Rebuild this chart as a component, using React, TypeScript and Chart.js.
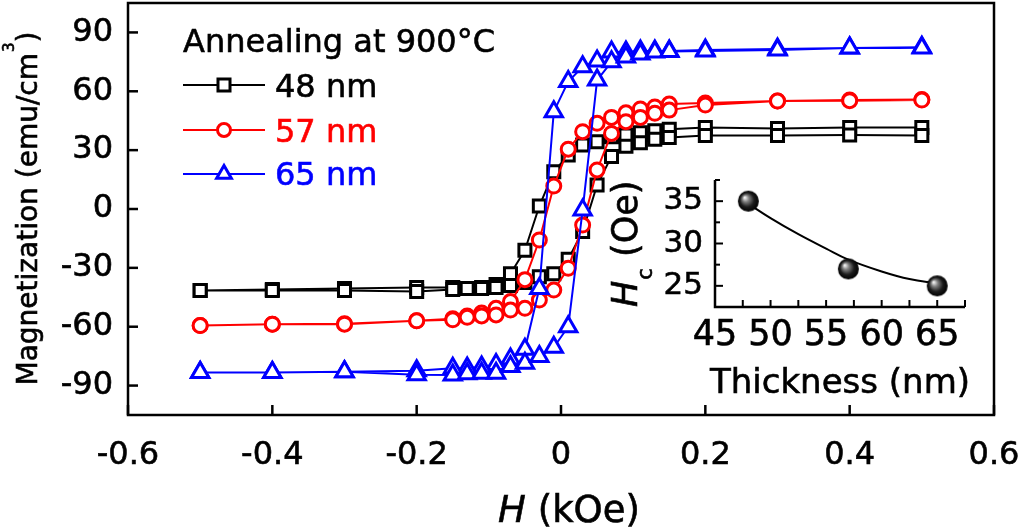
import React, { useEffect, useRef } from 'react';
import { Chart, registerables } from 'chart.js';

Chart.register(...registerables);

const FONT = '"DejaVu Sans", "Liberation Sans", sans-serif';
const TEXT_STROKE = 0.6;

// ---- Main hysteresis data: field H (kOe) ----
const H_DESC = [0.5, 0.4, 0.3, 0.2, 0.15, 0.13, 0.11, 0.09, 0.07, 0.05, 0.03, 0.01, -0.01, -0.03, -0.05, -0.07, -0.09, -0.11, -0.13, -0.15, -0.2, -0.3, -0.4, -0.5];
const H_ASC = [-0.5, -0.4, -0.3, -0.2, -0.15, -0.13, -0.11, -0.09, -0.07, -0.05, -0.03, -0.01, 0.01, 0.03, 0.05, 0.07, 0.09, 0.11, 0.13, 0.15, 0.2, 0.3, 0.4, 0.5];

// Magnetization (emu/cm3)
const M48_DESC = [41.5, 41.5, 41, 41.5, 40.6, 39.9, 38.9, 37.7, 36.8, 34.3, 32.6, 27.5, 19, 1.5, -21, -33, -38.5, -40, -40.5, -40, -40, -40.5, -41, -41.5];
const M48_ASC = [-41.5, -41.5, -41.5, -42, -41, -40.5, -40.5, -40, -39, -37.5, -34.5, -33, -25.6, -11.5, 12.2, 26.8, 32, 33.8, 35.5, 36.5, 37.5, 37.5, 37.7, 37.5];
const M57_DESC = [55.8, 55.5, 55, 54, 53.5, 52, 51, 49, 46.7, 43.7, 39.4, 30.5, 11.7, -15.8, -36, -47.2, -50.6, -53, -54.5, -56, -57, -58.5, -58.7, -59.4];
const M57_ASC = [-59.4, -58.7, -58.7, -57, -56.5, -55.2, -54.5, -54, -51.5, -50.6, -46.4, -41.3, -30.2, -8.2, 19.9, 38.5, 44.5, 46.7, 48.8, 50.4, 53, 55, 55.2, 55.5];
const M65_DESC = [82.5, 82, 81.5, 81, 80.5, 80.5, 80.5, 80, 80, 75.5, 72.5, 65, 49.6, -40.5, -71.5, -76.5, -79.3, -80.5, -81, -81.2, -82.5, -83, -83.4, -83.4];
const M65_ASC = [-83.4, -83.4, -83, -84.5, -84.6, -84, -83.7, -83.7, -80.3, -78.6, -75.2, -70.5, -60, -0.5, 65.7, 75, 77.5, 79, 80, 80.3, 80.5, 81, 82, 82];

const SERIES_NAMES = ['48 nm', '57 nm', '65 nm'];
const SERIES_COLORS = ['#000000', '#ff0000', '#0000ff'];
const SERIES_STYLES = ['rect', 'circle', 'triangle'];
const LEGEND_TITLE = 'Annealing at 900\u00B0C';

const X_TICKS = [-0.6, -0.4, -0.2, 0, 0.2, 0.4, 0.6];
const X_TICK_LABELS = ['-0.6', '-0.4', '-0.2', '0', '0.2', '0.4', '0.6'];
const Y_TICKS = [-90, -60, -30, 0, 30, 60, 90];
const Y_TICK_LABELS = ['-90', '-60', '-30', '0', '30', '60', '90'];
const X_TITLE_ITALIC = 'H';
const X_TITLE_REST = ' (kOe)';
const Y_TITLE_MAIN = 'Magnetization (emu/cm';
const Y_TITLE_SUP = '3';
const Y_TITLE_END = ')';

// ---- Inset data ----
const THICKNESS = [48, 57, 65];
const HC = [35, 27, 25];
const FIT_T = [48, 50, 52.5, 55, 57, 60, 62.5, 65];
const FIT_HC = [34.7, 33.0, 31.1, 29.4, 28.1, 26.7, 25.8, 25.3];
const INSET_X_TICKS = [45, 50, 55, 60, 65];
const INSET_X_MINOR = [47.5, 52.5, 57.5, 62.5, 67.5];
const INSET_Y_TICKS = [25, 30, 35];
const INSET_Y_MINOR = [27.5, 32.5, 37.5];
const INSET_X_TITLE = 'Thickness (nm)';
const INSET_Y_TITLE_ITALIC = 'H';
const INSET_Y_TITLE_SUB = 'c';
const INSET_Y_TITLE_REST = ' (Oe)';

function loop(desc: number[], asc: number[]) {
  return H_DESC.map((h, i) => ({ x: h, y: desc[i] })).concat(H_ASC.map((h, i) => ({ x: h, y: asc[i] })));
}

function zeroPad(s: any) {
  s.paddingLeft = 0;
  s.paddingRight = 0;
  s.paddingTop = 0;
  s.paddingBottom = 0;
}

function text(ctx: CanvasRenderingContext2D, s: string, x: number, y: number, color: string) {
  ctx.fillStyle = color;
  ctx.strokeStyle = color;
  ctx.lineWidth = TEXT_STROKE;
  ctx.fillText(s, x, y);
  ctx.strokeText(s, x, y);
}

function drawMarker(ctx: CanvasRenderingContext2D, style: string, x: number, y: number, r: number, color: string) {
  ctx.save();
  ctx.lineWidth = 3;
  ctx.strokeStyle = color;
  ctx.fillStyle = '#fff';
  ctx.beginPath();
  if (style === 'rect') {
    const s = r * Math.SQRT1_2;
    ctx.rect(x - s, y - s, 2 * s, 2 * s);
  } else if (style === 'circle') {
    ctx.arc(x, y, r, 0, Math.PI * 2);
  } else {
    ctx.moveTo(x, y - r);
    ctx.lineTo(x + r * 0.866, y + r * 0.5);
    ctx.lineTo(x - r * 0.866, y + r * 0.5);
    ctx.closePath();
  }
  ctx.fill();
  ctx.stroke();
  ctx.restore();
}

const mainFrame = {
  id: 'mainFrame',
  beforeDatasetsDraw(chart: any) {
    const { ctx, chartArea: a, scales } = chart;
    ctx.save();
    ctx.strokeStyle = '#000';
    ctx.lineWidth = 2.5;
    ctx.strokeRect(a.left, a.top, a.right - a.left, a.bottom - a.top);
    for (const t of scales.y.ticks) {
      const y = scales.y.getPixelForValue(t.value);
      ctx.beginPath();
      ctx.moveTo(a.left, y);
      ctx.lineTo(a.left + 10, y);
      ctx.stroke();
    }
    for (const t of scales.x.ticks) {
      const x = scales.x.getPixelForValue(t.value);
      ctx.beginPath();
      ctx.moveTo(x, a.bottom);
      ctx.lineTo(x, a.bottom - 10);
      ctx.stroke();
    }
    ctx.restore();
  },
  afterDraw(chart: any) {
    const { ctx, chartArea: a } = chart;
    ctx.save();
    ctx.textBaseline = 'alphabetic';
    ctx.textAlign = 'left';
    // x title
    const fi = `italic 37px ${FONT}`;
    const fn = `37px ${FONT}`;
    ctx.font = fi;
    const wH = ctx.measureText(X_TITLE_ITALIC).width;
    ctx.font = fn;
    const wR = ctx.measureText(X_TITLE_REST).width;
    const x0 = 569 - (wH + wR) / 2;
    ctx.font = fi;
    text(ctx, X_TITLE_ITALIC, x0, 522, '#000');
    ctx.font = fn;
    text(ctx, X_TITLE_REST, x0 + wH, 522, '#000');
    // y title
    ctx.translate(37, (a.top + a.bottom) / 2);
    ctx.rotate(-Math.PI / 2);
    const f1 = `28px ${FONT}`;
    const f2 = `15px ${FONT}`;
    ctx.font = f1;
    const w1 = ctx.measureText(Y_TITLE_MAIN).width;
    const w3 = ctx.measureText(Y_TITLE_END).width;
    ctx.font = f2;
    const w2 = ctx.measureText(Y_TITLE_SUP).width;
    let p = -(w1 + w2 + w3) / 2;
    ctx.font = f1;
    text(ctx, Y_TITLE_MAIN, p, 0, '#000');
    p += w1;
    ctx.font = f2;
    text(ctx, Y_TITLE_SUP, p + 1, -23, '#000');
    p += w2 + 1;
    ctx.font = f1;
    text(ctx, Y_TITLE_END, p, 0, '#000');
    ctx.restore();

    // legend
    ctx.save();
    ctx.textBaseline = 'alphabetic';
    ctx.textAlign = 'left';
    ctx.font = `32px ${FONT}`;
    text(ctx, LEGEND_TITLE, 183, 52, '#000');
    const rowY = [85, 130, 174];
    const textBase = [97, 142, 185];
    const radii = [8.5, 6.5, 8.5];
    for (let i = 0; i < 3; i++) {
      ctx.strokeStyle = SERIES_COLORS[i];
      ctx.lineWidth = 2;
      ctx.beginPath();
      ctx.moveTo(183, rowY[i]);
      ctx.lineTo(265, rowY[i]);
      ctx.stroke();
      drawMarker(ctx, SERIES_STYLES[i], 224, rowY[i], radii[i], SERIES_COLORS[i]);
      ctx.font = `32px ${FONT}`;
      text(ctx, SERIES_NAMES[i], 275, textBase[i], SERIES_COLORS[i]);
    }
    ctx.restore();
  },
};

const insetFrame = {
  id: 'insetFrame',
  beforeDatasetsDraw(chart: any) {
    const { ctx, chartArea: a, scales } = chart;
    ctx.save();
    ctx.strokeStyle = '#000';
    ctx.lineWidth = 2.5;
    ctx.beginPath();
    ctx.moveTo(a.left, a.top);
    ctx.lineTo(a.left, a.bottom);
    ctx.lineTo(a.right, a.bottom);
    ctx.stroke();
    ctx.lineWidth = 2;
    for (const v of INSET_Y_TICKS) {
      const y = scales.y.getPixelForValue(v);
      ctx.beginPath(); ctx.moveTo(a.left, y); ctx.lineTo(a.left + 8, y); ctx.stroke();
    }
    for (const v of INSET_Y_MINOR) {
      const y = scales.y.getPixelForValue(v);
      ctx.beginPath(); ctx.moveTo(a.left, y); ctx.lineTo(a.left + 5, y); ctx.stroke();
    }
    for (const v of INSET_X_TICKS) {
      const x = scales.x.getPixelForValue(v);
      ctx.beginPath(); ctx.moveTo(x, a.bottom); ctx.lineTo(x, a.bottom - 7); ctx.stroke();
    }
    for (const v of INSET_X_MINOR) {
      const x = scales.x.getPixelForValue(v);
      ctx.beginPath(); ctx.moveTo(x, a.bottom); ctx.lineTo(x, a.bottom - 7); ctx.stroke();
    }
    ctx.restore();
  },
  afterDraw(chart: any) {
    const { ctx, chartArea: a } = chart;
    ctx.save();
    ctx.textBaseline = 'alphabetic';
    ctx.textAlign = 'center';
    ctx.font = `34px ${FONT}`;
    text(ctx, INSET_X_TITLE, (a.left + a.right) / 2, 233, '#000');
    ctx.textAlign = 'left';
    ctx.translate(37, a.bottom);
    ctx.rotate(-Math.PI / 2);
    ctx.font = `italic 35px ${FONT}`;
    const wH = ctx.measureText(INSET_Y_TITLE_ITALIC).width;
    text(ctx, INSET_Y_TITLE_ITALIC, 0, 0, '#000');
    ctx.font = `21px ${FONT}`;
    const wc = ctx.measureText(INSET_Y_TITLE_SUB).width;
    text(ctx, INSET_Y_TITLE_SUB, wH + 1, 15, '#000');
    ctx.font = `35px ${FONT}`;
    text(ctx, INSET_Y_TITLE_REST, wH + wc + 1, 0, '#000');
    ctx.restore();
  },
};

function makeSphere(r: number) {
  const c = document.createElement('canvas');
  const s = Math.ceil(r * 2 + 2);
  c.width = s;
  c.height = s;
  const g = c.getContext('2d')!;
  const cx = s / 2, cy = s / 2;
  const grad = g.createRadialGradient(cx - r * 0.35, cy - r * 0.35, r * 0.05, cx, cy, r);
  grad.addColorStop(0, '#f2f2f2');
  grad.addColorStop(0.28, '#808080');
  grad.addColorStop(0.65, '#1c1c1c');
  grad.addColorStop(1, '#000');
  g.fillStyle = grad;
  g.beginPath();
  g.arc(cx, cy, r, 0, Math.PI * 2);
  g.fill();
  return c;
}

const tickFont = (size: number) => ({
  font: { family: FONT, size },
  color: '#000',
  textStrokeColor: '#000',
  textStrokeWidth: TEXT_STROKE,
});

export default function App() {
  const mainRef = useRef<HTMLCanvasElement>(null);
  const insetRef = useRef<HTMLCanvasElement>(null);

  useEffect(() => {
    document.body.style.margin = '0';
    const series = [
      { d: M48_DESC, a: M48_ASC, r: 8.5, order: 3 },
      { d: M57_DESC, a: M57_ASC, r: 7, order: 2 },
      { d: M65_DESC, a: M65_ASC, r: 10, order: 1 },
    ];
    const main = new Chart(mainRef.current!, {
      type: 'scatter',
      data: {
        datasets: series.map((s, i) => ({
          label: SERIES_NAMES[i],
          data: loop(s.d, s.a),
          showLine: true,
          borderColor: SERIES_COLORS[i],
          borderWidth: 2,
          pointStyle: SERIES_STYLES[i] as any,
          pointRadius: s.r,
          pointBorderWidth: 3,
          pointBorderColor: SERIES_COLORS[i],
          pointBackgroundColor: '#ffffff',
          tension: 0,
          order: s.order,
        })),
      },
      options: {
        animation: false,
        responsive: false,
        maintainAspectRatio: false,
        layout: { autoPadding: false, padding: { top: 3, right: 26, left: 0, bottom: 0 } },
        plugins: { legend: { display: false }, tooltip: { enabled: false } },
        scales: {
          x: {
            type: 'linear',
            min: -0.6,
            max: 0.6,
            grid: { display: false, drawTicks: false },
            border: { display: false },
            afterBuildTicks: (s: any) => { s.ticks = X_TICKS.map((v) => ({ value: v })); },
            afterFit: (s: any) => { s.height = 116; zeroPad(s); },
            ticks: {
              callback: (_v: any, i: number) => X_TICK_LABELS[i],
              ...tickFont(32),
              padding: 21,
              maxRotation: 0,
              minRotation: 0,
              autoSkip: false,
            },
          },
          y: {
            type: 'linear',
            min: -105,
            max: 105,
            grid: { display: false, drawTicks: false },
            border: { display: false },
            afterBuildTicks: (s: any) => { s.ticks = Y_TICKS.map((v) => ({ value: v })); },
            afterFit: (s: any) => { s.width = 128; zeroPad(s); },
            ticks: {
              callback: (_v: any, i: number) => Y_TICK_LABELS[i],
              ...tickFont(32),
              padding: 15,
              autoSkip: false,
            },
          },
        },
      },
      plugins: [mainFrame],
    } as any);

    const sphere = makeSphere(10.5);
    const inset = new Chart(insetRef.current!, {
      type: 'scatter',
      data: {
        datasets: [
          {
            label: 'Hc',
            data: THICKNESS.map((t, i) => ({ x: t, y: HC[i] })),
            pointStyle: sphere as any,
            pointRadius: 10,
            showLine: false,
            order: 0,
          },
          {
            label: 'fit',
            data: FIT_T.map((t, i) => ({ x: t, y: FIT_HC[i] })),
            showLine: true,
            borderColor: '#000',
            borderWidth: 2,
            pointRadius: 0,
            tension: 0.4,
            order: 1,
          },
        ],
      },
      options: {
        animation: false,
        responsive: false,
        maintainAspectRatio: false,
        layout: { autoPadding: false, padding: { top: 20, right: 55, left: 0, bottom: 0 } },
        plugins: { legend: { display: false }, tooltip: { enabled: false } },
        scales: {
          x: {
            type: 'linear',
            min: 45,
            max: 67.5,
            grid: { display: false, drawTicks: false },
            border: { display: false },
            afterBuildTicks: (s: any) => { s.ticks = INSET_X_TICKS.map((v) => ({ value: v })); },
            afterFit: (s: any) => { s.height = 103; zeroPad(s); },
            ticks: {
              callback: (_v: any, i: number) => String(INSET_X_TICKS[i]),
              ...tickFont(35),
              padding: 8,
              maxRotation: 0,
              minRotation: 0,
              autoSkip: false,
            },
          },
          y: {
            type: 'linear',
            min: 22.5,
            max: 37.5,
            grid: { display: false, drawTicks: false },
            border: { display: false },
            afterBuildTicks: (s: any) => { s.ticks = INSET_Y_TICKS.map((v) => ({ value: v })); },
            afterFit: (s: any) => { s.width = 115; zeroPad(s); },
            ticks: {
              callback: (_v: any, i: number) => String(INSET_Y_TICKS[i]),
              ...tickFont(31),
              padding: 12,
              autoSkip: false,
            },
          },
        },
      },
      plugins: [insetFrame],
    } as any);

    return () => {
      main.destroy();
      inset.destroy();
    };
  }, []);

  return (
    <div style={{ position: 'relative', width: 1020, height: 531, background: '#fff' }}>
      <canvas ref={mainRef} width={1020} height={531} style={{ position: 'absolute', left: 0, top: 0, width: 1020, height: 531 }} />
      <canvas ref={insetRef} width={420} height={250} style={{ position: 'absolute', left: 600, top: 160, width: 420, height: 250 }} />
    </div>
  );
}
